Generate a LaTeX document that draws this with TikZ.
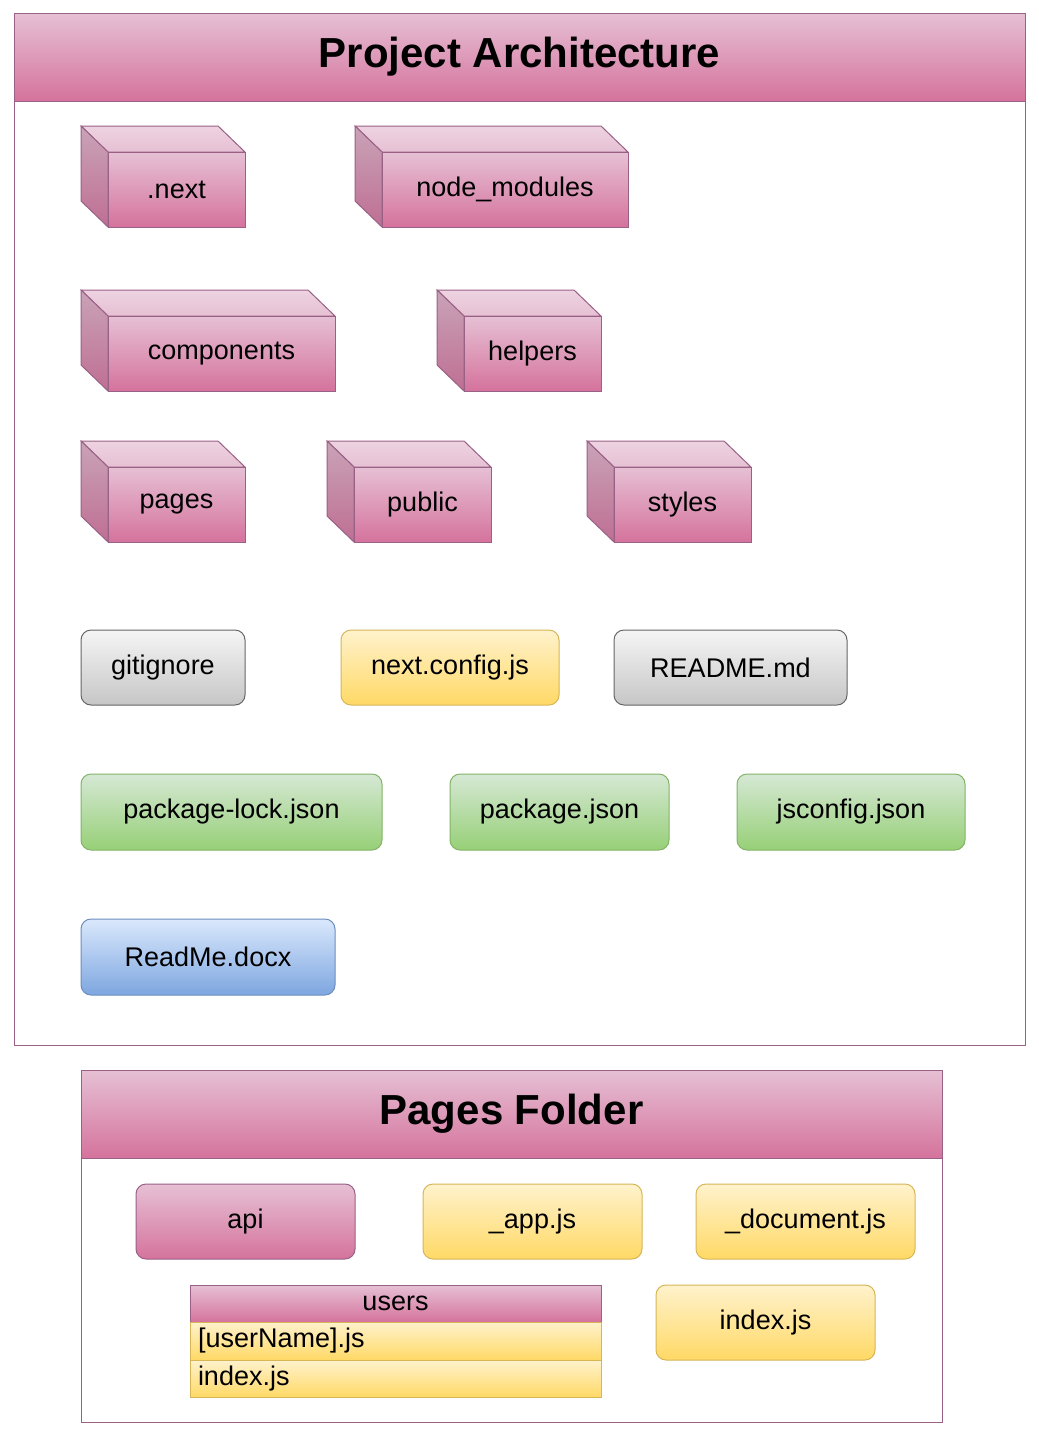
\documentclass[tikz,border=0pt]{standalone}
\usepackage{fontspec}
\setmainfont{Liberation Sans}
\begin{document}
\begin{tikzpicture}[x=1pt,y=-1pt,
  lbl/.style={font=\fontsize{27}{30}\selectfont,inner sep=0pt,outer sep=0pt},
  pinkg/.style={top color=pTop,bottom color=pBot,draw=pEdge,line width=1pt},
  yelg/.style={top color=yTop,bottom color=yBot,draw=yEdge,line width=1pt},
  greyg/.style={top color=gTop,bottom color=gBot,draw=gEdge,line width=1pt},
  greeng/.style={top color=grTop,bottom color=grBot,draw=grEdge,line width=1pt},
  blueg/.style={top color=bTop,bottom color=bBot,draw=bEdge,line width=1pt},
  frame/.style={draw=pEdge,line width=1pt,fill=white}]
\definecolor{pTop}{HTML}{E6C0D4}\definecolor{pBot}{HTML}{D5739D}\definecolor{pEdge}{HTML}{996185}
\definecolor{pSideT}{HTML}{C9A3B8}\definecolor{pSideB}{HTML}{BF6F93}
\definecolor{yTop}{HTML}{FFF2CC}\definecolor{yBot}{HTML}{FFD966}\definecolor{yEdge}{HTML}{D6B656}
\definecolor{gTop}{HTML}{F5F5F5}\definecolor{gBot}{HTML}{C6C6C6}\definecolor{gEdge}{HTML}{666666}
\definecolor{grTop}{HTML}{D5E8D4}\definecolor{grBot}{HTML}{97D077}\definecolor{grEdge}{HTML}{82B366}
\definecolor{bTop}{HTML}{DAE8FC}\definecolor{bBot}{HTML}{7EA6E0}\definecolor{bEdge}{HTML}{6C8EBF}
\useasboundingbox (0,0) rectangle (1039,1436);
\fill[white] (0,0) rectangle (1039,1436);
\newcommand\rbox[7]{%
  \node[#6,rounded corners=10pt,minimum width={#3-#2},minimum height={#5-#4},inner sep=0pt,lbl]
   (#1) at ({(#2+#3)/2},{(#4+#5)/2}) {#7};}
\newcommand\cube[6]{%
  \draw[top color=pTop!70!white,bottom color=pTop,draw=pEdge,line width=1pt]
     (#2,#4) -- (#3-27,#4) -- (#3,#4+26) -- (#2+27,#4+26) -- cycle;
  \draw[top color=pSideT,bottom color=pSideB,draw=pEdge,line width=1pt]
     (#2,#4) -- (#2+27,#4+26) -- (#2+27,#5) -- (#2,#5-26) -- cycle;
  \node[pinkg,minimum width={#3-#2-27},minimum height={#5-#4-26},inner sep=0pt,lbl]
     (#1) at ({(#2+27+#3)/2},{(#4+26+#5)/2}) {#6};}
% container 1
\node[frame,minimum width=1011,minimum height=1032,inner sep=0pt] (c1) at (519.5,529) {};
\node[pinkg,minimum width=1011,minimum height=88,inner sep=0pt,font=\bfseries\fontsize{42}{46}\selectfont] (t1) at (519.5,57) {Project Architecture};
\cube{next}{81}{245}{126}{227}{.next}
\cube{nm}{355}{628}{126}{227}{node\_modules}
\cube{comp}{81}{335}{290}{391}{components}
\cube{help}{437}{601}{290}{391}{helpers}
\cube{pages}{81}{245}{441}{542}{pages}
\cube{pub}{327}{491}{441}{542}{public}
\cube{sty}{587}{751}{441}{542}{styles}
\rbox{git}{81}{245}{630}{705}{greyg}{gitignore}
\rbox{ncfg}{341}{559}{630}{705}{yelg}{next.config.js}
\rbox{readme}{614}{847}{630}{705}{greyg}{README.md}
\rbox{plock}{81}{382}{774}{850}{greeng}{package-lock.json}
\rbox{pkg}{450}{669}{774}{850}{greeng}{package.json}
\rbox{jsc}{737}{965}{774}{850}{greeng}{jsconfig.json}
\rbox{docx}{81}{335}{919}{995}{blueg}{ReadMe.docx}
% container 2
\node[frame,minimum width=861,minimum height=352,inner sep=0pt] (c2) at (511.5,1246) {};
\node[pinkg,minimum width=861,minimum height=88,inner sep=0pt,font=\bfseries\fontsize{42}{46}\selectfont] (t2) at (511.5,1114) {Pages Folder};
\rbox{api}{136}{355}{1184}{1259}{pinkg}{api}
\rbox{app}{423}{642}{1184}{1259}{yelg}{\_app.js}
\rbox{doc}{696}{915}{1184}{1259}{yelg}{\_document.js}
\rbox{idx}{656}{875}{1285}{1360}{yelg}{index.js}
\node[pinkg,minimum width=411,minimum height=37,inner sep=0pt,lbl] (users) at (395.5,1303.5) {users};
\node[yelg,minimum width=411,minimum height=38,inner sep=0pt,lbl,text width=395,align=left] (un) at (395.5,1341) {[userName].js};
\node[yelg,minimum width=411,minimum height=37,inner sep=0pt,lbl,text width=395,align=left] (uidx) at (395.5,1378.5) {index.js};
\end{tikzpicture}
\end{document}
